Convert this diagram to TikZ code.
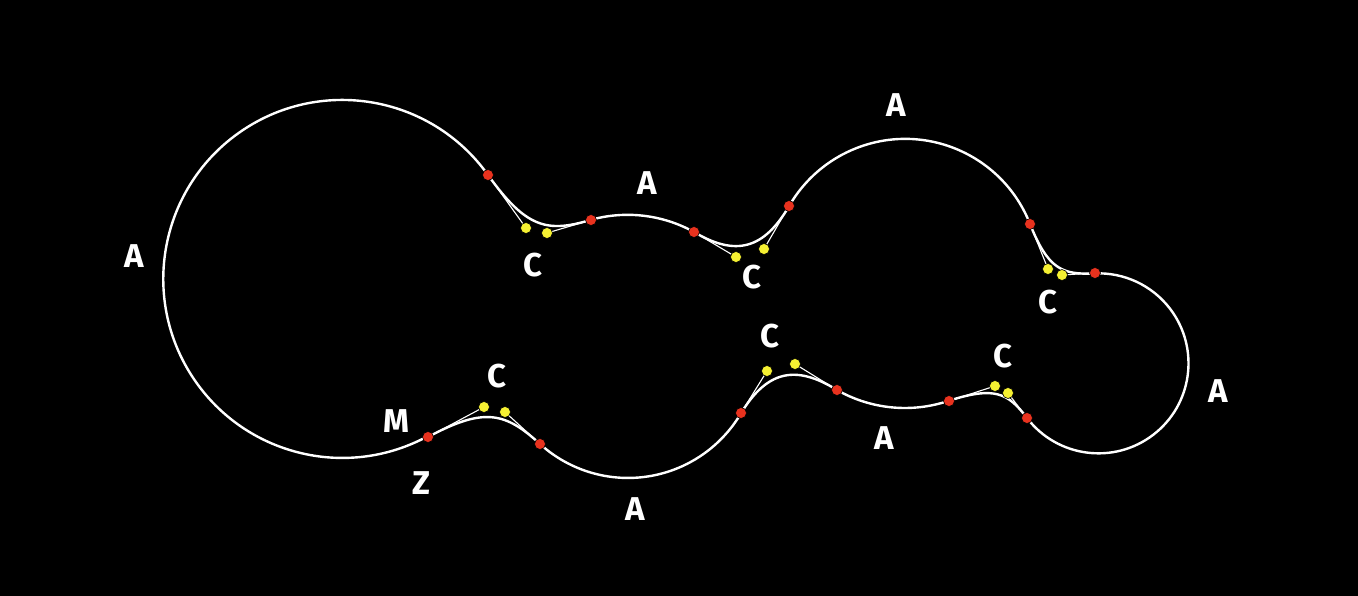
\documentclass[tikz,border=0pt]{standalone}
\usepackage{fontspec}
\setmainfont{Fira Sans}
\begin{document}
\begin{tikzpicture}[x=1pt,y=-1pt,
  curve/.style={draw=white,line width=2.4pt},
  handle/.style={draw=white,line width=1.1pt},
  redpt/.style={circle,fill={rgb,255:red,232;green,50;blue,30},draw=black,line width=0.6pt,inner sep=0pt,minimum size=11pt},
  ylwpt/.style={circle,fill={rgb,255:red,245;green,240;blue,50},draw=black,line width=0.6pt,inner sep=0pt,minimum size=11pt},
  lbl/.style={text=white,font=\fontsize{33}{33}\selectfont\bfseries,inner sep=0pt}]
\fill[black] (0,0) rectangle (1358,596);
\useasboundingbox (0,0) rectangle (1358,596);
% main path
\draw[curve] (428,437) .. controls (484,407) and (505,412) .. (540,444)
  arc[start angle=132.2,end angle=30.3,radius=131]
  .. controls (767,371) and (795,364) .. (837,390)
  arc[start angle=119.7,end angle=71.3,radius=137]
  .. controls (995,386) and (1008,393) .. (1027,418)
  arc[start angle=142.6,end angle=-92.5,radius=90]
  .. controls (1062,275) and (1048,269) .. (1030,224)
  arc[start angle=-21.4,end angle=-150,radius=134]
  .. controls (764,249) and (736,257) .. (694,232)
  arc[start angle=-61,end angle=-105.8,radius=137]
  .. controls (547,233) and (526,228) .. (488,175)
  arc[start angle=-35.5,end angle=-298.6,radius=179];
% handles
\draw[handle] (428,437)--(484,407) (505,412)--(540,444)
  (741,413)--(767,371) (795,364)--(837,390)
  (949,401)--(995,386) (1008,393)--(1027,418)
  (1095,273)--(1062,275) (1048,269)--(1030,224)
  (789,206)--(764,249) (736,257)--(694,232)
  (591,220)--(547,233) (526,228)--(488,175);
% points
\foreach \n/\p in {r1/{(428,437)},r2/{(540,444)},r3/{(741,413)},r4/{(837,390)},r5/{(949,401)},r6/{(1027,418)},r7/{(1095,273)},r8/{(1030,224)},r9/{(789,206)},r10/{(694,232)},r11/{(591,220)},r12/{(488,175)}}
  \node[redpt] (\n) at \p {};
\foreach \n/\p in {y1/{(484,407)},y2/{(505,412)},y3/{(767,371)},y4/{(795,364)},y5/{(995,386)},y6/{(1008,393)},y7/{(1062,275)},y8/{(1048,269)},y9/{(764,249)},y10/{(736,257)},y11/{(547,233)},y12/{(526,228)}}
  \node[ylwpt] (\n) at \p {};
% labels
\foreach \n/\p/\t in {la1/{(134,256)}/A,la2/{(647,183)}/A,la3/{(896,105)}/A,la4/{(1218,391)}/A,la5/{(884,438)}/A,la6/{(635,509)}/A,
  lc1/{(533,265)}/C,lc2/{(752,277)}/C,lc3/{(1048,302)}/C,lc4/{(770,336)}/C,lc5/{(1003,356)}/C,lc6/{(497,376)}/C,
  lm/{(396,421)}/M,lz/{(421,483)}/Z}
  \node[lbl] (\n) at \p {\t};
\end{tikzpicture}
\end{document}
